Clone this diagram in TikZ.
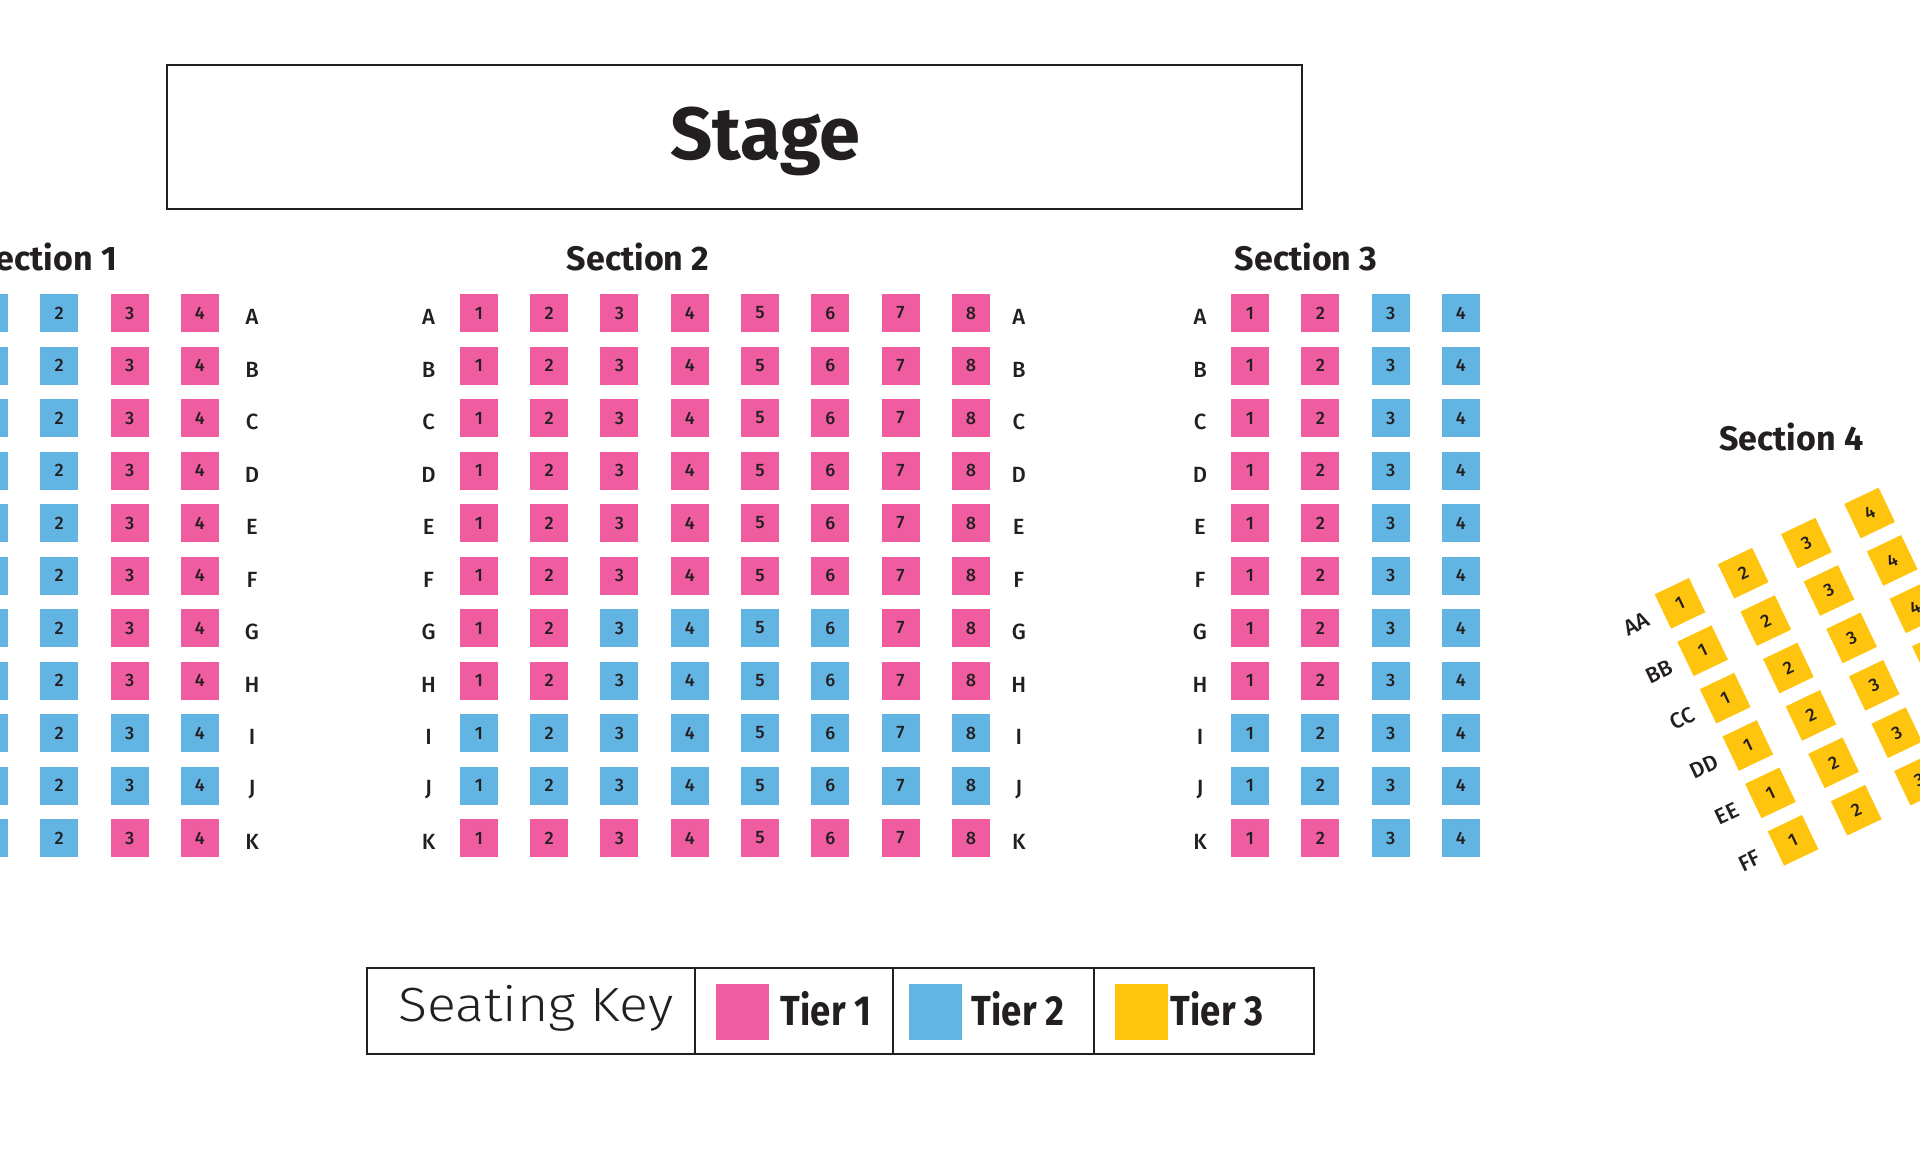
\documentclass[tikz,border=0pt]{standalone}
\usepackage{fontspec}
\setmainfont{Fira Sans}
\newfontfamily\headfont{Fira Sans Bold}
\newfontfamily\seatfont{Fira Sans Medium}
\newfontfamily\keyfont{Fira Sans Light}[FakeStretch=1.12]
\newfontfamily\tierfont{Fira Sans Bold}[FakeStretch=0.87]
\usepackage{tikz}

\definecolor{P}{HTML}{F05CA0}
\definecolor{B}{HTML}{62B4E3}
\definecolor{Y}{HTML}{FFC40E}
\definecolor{ink}{HTML}{231F20}

\tikzstyle{seat}=[minimum width=38pt,minimum height=38pt,inner sep=0pt,text=ink,font=\seatfont\fontsize{18}{18}\selectfont]
\tikzstyle{rowlabel}=[inner sep=0pt,text=ink,font=\seatfont\fontsize{22}{22}\selectfont]
\tikzstyle{sectiontitle}=[inner sep=0pt,text=ink,font=\headfont\fontsize{34}{34}\selectfont]
\tikzstyle{boxline}=[draw=ink,line width=2pt]
\tikzstyle{keyswatch}=[minimum width=53pt,minimum height=56pt,inner sep=0pt,anchor=north west]
\tikzstyle{tiertext}=[inner sep=0pt,anchor=base west,text=ink,font=\tierfont\fontsize{42}{42}\selectfont]

\begin{document}
\begin{tikzpicture}[x=1pt,y=-1pt]
	\useasboundingbox (0,0) rectangle (1920,1152);
	\clip (0,0) rectangle (1920,1152);

	%stage
	\node[boxline,minimum width=1135pt,minimum height=144.3pt] (stage) at (734.2,137.2) {};
	\node[anchor=base,inner sep=0pt,text=ink,font=\headfont\fontsize{74}{74}\selectfont] (stagetext) at (765.5,159.2) {Stage};

	%section titles
	\node[sectiontitle,anchor=east] (title1) at (117,257) {Section 1};
	\node[sectiontitle] (title2) at (638,257) {Section 2};
	\node[sectiontitle] (title3) at (1306,257) {Section 3};
	\node[sectiontitle] (title4) at (1791.3,436.5) {Section 4};

	%section 1
	\foreach \r/\cols [count=\i from 0] in {A/{B,B,P,P},B/{B,B,P,P},C/{B,B,P,P},D/{B,B,P,P},
		E/{B,B,P,P},F/{B,B,P,P},G/{B,B,P,P},H/{B,B,P,P},I/{B,B,B,B},J/{B,B,B,B},K/{B,B,P,P}}{
		\foreach \t [count=\c] in \cols
			\node[seat,fill=\t] (s1-\r-\c) at ({-11+70.3*(\c-1)},{313+52.5*\i}) {\c};
		\node[rowlabel] (l1-\r) at (252,{317+52.5*\i}) {\r};
	}

	%section 2
	\foreach \r/\cols [count=\i from 0] in {A/{P,P,P,P,P,P,P,P},B/{P,P,P,P,P,P,P,P},
		C/{P,P,P,P,P,P,P,P},D/{P,P,P,P,P,P,P,P},E/{P,P,P,P,P,P,P,P},F/{P,P,P,P,P,P,P,P},
		G/{P,P,B,B,B,B,P,P},H/{P,P,B,B,B,B,P,P},I/{B,B,B,B,B,B,B,B},J/{B,B,B,B,B,B,B,B},
		K/{P,P,P,P,P,P,P,P}}{
		\foreach \t [count=\c] in \cols
			\node[seat,fill=\t] (s2-\r-\c) at ({478.8+70.3*(\c-1)},{313+52.5*\i}) {\c};
		\node[rowlabel] (l2-\r) at (428.6,{317+52.5*\i}) {\r};
		\node[rowlabel] (r2-\r) at (1018.8,{317+52.5*\i}) {\r};
	}

	%section 3
	\foreach \r/\cols [count=\i from 0] in {A/{P,P,B,B},B/{P,P,B,B},C/{P,P,B,B},D/{P,P,B,B},
		E/{P,P,B,B},F/{P,P,B,B},G/{P,P,B,B},H/{P,P,B,B},I/{B,B,B,B},J/{B,B,B,B},K/{P,P,B,B}}{
		\foreach \t [count=\c] in \cols
			\node[seat,fill=\t] (s3-\r-\c) at ({1250+70.3*(\c-1)},{313+52.5*\i}) {\c};
		\node[rowlabel] (l3-\r) at (1200,{317+52.5*\i}) {\r};
	}

	%section 4, turned
	\foreach \r [count=\i from 0] in {AA,BB,CC,DD,EE,FF}{
		\foreach \c in {1,...,4}
			\node[seat,fill=Y,rotate=25.5] (s4-\r-\c) at ({1680+22.6*\i+63.2*(\c-1)},{603.3+47.4*\i-30.1*(\c-1)}) {\c};
		\node[rowlabel,rotate=25.5] (l4-\r) at ({1636.7+22.6*\i},{624+47.4*\i}) {\r};
	}

	%key
	\draw[boxline] (366.7,967.7) rectangle (1314.3,1054);
	\foreach \x in {695,892.7,1094.3}
		\draw[boxline] (\x,967.7) -- (\x,1054);
	\node[anchor=base west,inner sep=0pt,text=ink,font=\keyfont\fontsize{48}{48}\selectfont] (keytitle) at (398,1021.7) {Seating Key};
	\node[keyswatch,fill=P] (key1) at (715.7,984) {};
	\node[tiertext] (tier1) at (780.7,1025.7) {Tier 1};
	\node[keyswatch,fill=B] (key2) at (909,984) {};
	\node[tiertext] (tier2) at (971.7,1025.7) {Tier 2};
	\node[keyswatch,fill=Y] (key3) at (1114.3,984) {};
	\node[tiertext] (tier3) at (1170.7,1025.7) {Tier 3};
\end{tikzpicture}
\end{document}
